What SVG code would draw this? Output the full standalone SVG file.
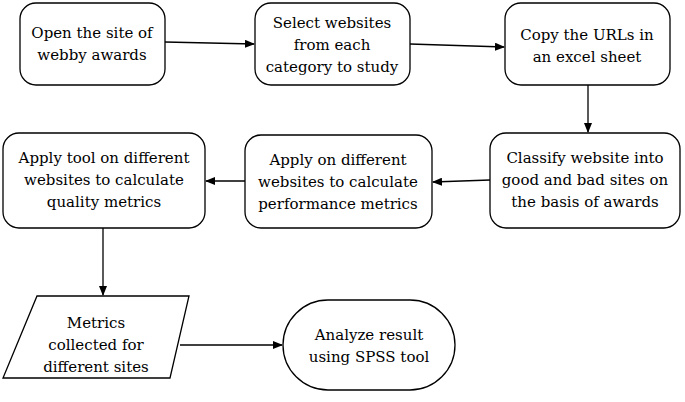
<svg xmlns="http://www.w3.org/2000/svg" width="685" height="402" viewBox="0 0 685 402">
<defs>
<marker id="ah" markerWidth="10" markerHeight="8" refX="9" refY="4" orient="auto" markerUnits="userSpaceOnUse"><path d="M0,0 L10,4 L0,8 Z" fill="#000"/></marker>
<style>
.n{fill:#fff;stroke:#000;stroke-width:1.3}
.t{font-family:"DejaVu Serif","Liberation Serif",serif;font-size:15px;text-anchor:middle;fill:#000}
.c{stroke:#000;stroke-width:1.3;fill:none;marker-end:url(#ah)}
</style>
</defs>
<rect width="685" height="402" fill="#fff"/>
<g id="n1"><rect class="n" x="20" y="3" width="145" height="82" rx="16"/><text class="t" x="92" y="38">Open the site of</text><text class="t" x="92" y="60">webby awards</text></g>
<g id="n2"><rect class="n" x="255" y="3" width="155" height="82" rx="16"/><text class="t" x="332" y="28">Select websites</text><text class="t" x="332" y="50">from each</text><text class="t" x="332" y="72">category to study</text></g>
<g id="n3"><rect class="n" x="505" y="3" width="165" height="82" rx="16"/><text class="t" x="587" y="40">Copy the URLs in</text><text class="t" x="587" y="62">an excel sheet</text></g>
<g id="n4"><rect class="n" x="490" y="133" width="190" height="95" rx="16"/><text class="t" x="585" y="163">Classify website into</text><text class="t" x="585" y="185">good and bad sites on</text><text class="t" x="585" y="207">the basis of awards</text></g>
<g id="n5"><rect class="n" x="245" y="135" width="187" height="93" rx="16"/><text class="t" x="338" y="165">Apply on different</text><text class="t" x="338" y="187">websites to calculate</text><text class="t" x="338" y="209">performance metrics</text></g>
<g id="n6"><rect class="n" x="3" y="133" width="202" height="95" rx="16"/><text class="t" x="104" y="163">Apply tool on different</text><text class="t" x="104" y="185">websites to calculate</text><text class="t" x="104" y="207">quality metrics</text></g>
<g id="n7"><polygon class="n" points="37,296 189,296 170,378 3,378"/><text class="t" x="96" y="328">Metrics</text><text class="t" x="96" y="350">collected for</text><text class="t" x="96" y="372">different sites</text></g>
<g id="n8"><rect class="n" x="283" y="300" width="172" height="90" rx="45"/><text class="t" x="369" y="340">Analyze result</text><text class="t" x="369" y="362">using SPSS tool</text></g>
<g id="connectors">
<line class="c" x1="165" y1="42" x2="254" y2="44"/>
<line class="c" x1="410" y1="44" x2="504" y2="47"/>
<line class="c" x1="588" y1="85" x2="588" y2="132"/>
<line class="c" x1="490" y1="180" x2="433" y2="182"/>
<line class="c" x1="245" y1="181" x2="206" y2="181"/>
<line class="c" x1="103" y1="228" x2="103" y2="295"/>
<line class="c" x1="180" y1="345" x2="282" y2="345"/>
</g>
</svg>
